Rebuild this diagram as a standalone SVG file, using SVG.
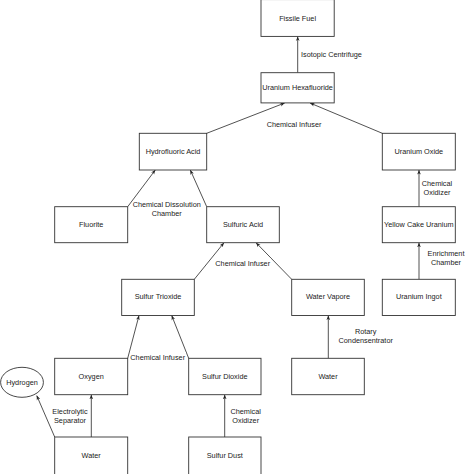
<svg xmlns="http://www.w3.org/2000/svg" width="474" height="474" viewBox="0 0 474 474">
<defs>
<style>
.box{fill:#fff;stroke:#333;stroke-width:0.9}
.t{font-family:"Liberation Sans",Arial,sans-serif;font-size:7.3px;fill:#222;text-anchor:middle}
.ts{text-anchor:start}
.c{stroke:#333;stroke-width:0.85;fill:none;marker-end:url(#ah)}
</style>
<marker id="ah" viewBox="0 0 10 10" refX="10" refY="5" markerWidth="4.6" markerHeight="4.6" markerUnits="userSpaceOnUse" orient="auto">
<path d="M0,1 L10,5 L0,9 L3,5 z" fill="#222"/>
</marker>
</defs>
<rect width="474" height="474" fill="#fff"/>
<g id="connectors">
<line class="c" x1="297.7" y1="72.7" x2="297.7" y2="36.4"/>
<line class="c" x1="206.7" y1="133.3" x2="284.7" y2="103"/>
<line class="c" x1="382.3" y1="133.3" x2="310" y2="103"/>
<line class="c" x1="127.7" y1="206.7" x2="155.3" y2="170"/>
<line class="c" x1="206.7" y1="206.7" x2="190.3" y2="170"/>
<line class="c" x1="419" y1="206.7" x2="419" y2="170"/>
<line class="c" x1="194.3" y1="279.3" x2="224" y2="242.7"/>
<line class="c" x1="291.7" y1="279.3" x2="256" y2="242.7"/>
<line class="c" x1="419" y1="279.3" x2="419" y2="242.7"/>
<line class="c" x1="127.7" y1="358.3" x2="139" y2="315.5"/>
<line class="c" x1="188.7" y1="358.3" x2="171.7" y2="315.5"/>
<line class="c" x1="328.3" y1="358.3" x2="328.3" y2="315.5"/>
<line class="c" x1="91.3" y1="437" x2="91.3" y2="394.7"/>
<line class="c" x1="54.7" y1="437" x2="36.7" y2="395.5"/>
<line class="c" x1="224.7" y1="437" x2="224.7" y2="394.7"/>
<g id="edge-labels">
<text class="t ts" x="301" y="57.1">Isotopic Centrifuge</text>
<rect x="266" y="118" width="56" height="10" fill="#fff"/>
<text class="t" x="294" y="126.6">Chemical Infuser</text>
<text class="t" x="166.7" y="206.9">Chemical Dissolution</text>
<text class="t" x="166.7" y="216.3">Chamber</text>
<text class="t" x="437" y="186.3">Chemical</text>
<text class="t" x="437" y="195.3">Oxidizer</text>
<rect x="215" y="258" width="56" height="10" fill="#fff"/>
<text class="t" x="242.7" y="266.3">Chemical Infuser</text>
<text class="t" x="446" y="255.9">Enrichment</text>
<text class="t" x="446" y="264.9">Chamber</text>
<rect x="130" y="352" width="56" height="10" fill="#fff"/>
<text class="t" x="157.7" y="360.3">Chemical Infuser</text>
<text class="t" x="365.7" y="333.6">Rotary</text>
<text class="t" x="365.7" y="342.6">Condensentrator</text>
<text class="t" x="70" y="413.6">Electrolytic</text>
<text class="t" x="70" y="422.9">Separator</text>
<text class="t" x="245.7" y="413.6">Chemical</text>
<text class="t" x="245.7" y="422.9">Oxidizer</text>
</g>
</g>
<g id="fissile-fuel"><rect class="box" x="261" y="-0.4" width="73.2" height="36.8"/><text class="t" x="297.6" y="20.8">Fissile Fuel</text></g>
<g id="uranium-hexafluoride"><rect class="box" x="261" y="72.7" width="73.2" height="30.2"/><text class="t" x="297.6" y="90.4">Uranium Hexafluoride</text></g>
<g id="hydrofluoric-acid"><rect class="box" x="139.3" y="133.3" width="67.4" height="36.7"/><text class="t" x="173" y="154">Hydrofluoric Acid</text></g>
<g id="uranium-oxide"><rect class="box" x="382.3" y="133.3" width="73" height="36.7"/><text class="t" x="418.8" y="154">Uranium Oxide</text></g>
<g id="fluorite"><rect class="box" x="54.7" y="206.7" width="73" height="36"/><text class="t" x="91.2" y="226.6">Fluorite</text></g>
<g id="sulfuric-acid"><rect class="box" x="206.7" y="206.7" width="72.6" height="36"/><text class="t" x="243" y="226.6">Sulfuric Acid</text></g>
<g id="yellow-cake-uranium"><rect class="box" x="382.3" y="206.7" width="73" height="36"/><text class="t" x="418.8" y="226.6">Yellow Cake Uranium</text></g>
<g id="sulfur-trioxide"><rect class="box" x="121.7" y="279.3" width="72.6" height="36.2"/><text class="t" x="158" y="299.3">Sulfur Trioxide</text></g>
<g id="water-vapore"><rect class="box" x="291.7" y="279.3" width="72.6" height="36.2"/><text class="t" x="328" y="299.3">Water Vapore</text></g>
<g id="uranium-ingot"><rect class="box" x="382.3" y="279.3" width="73" height="36.2"/><text class="t" x="418.8" y="299.3">Uranium Ingot</text></g>
<g id="oxygen"><rect class="box" x="54.7" y="358.3" width="73" height="36.4"/><text class="t" x="91.2" y="378.6">Oxygen</text></g>
<g id="sulfur-dioxide"><rect class="box" x="188.7" y="358.3" width="72.3" height="36.4"/><text class="t" x="224.8" y="378.6">Sulfur Dioxide</text></g>
<g id="water-right"><rect class="box" x="291.7" y="358.3" width="72.6" height="36.4"/><text class="t" x="328" y="378.6">Water</text></g>
<g id="hydrogen"><ellipse class="box" cx="22" cy="382.3" rx="21.4" ry="15"/><text class="t" x="22" y="384.9">Hydrogen</text></g>
<g id="water-left"><rect class="box" x="54.7" y="437" width="73" height="38"/><text class="t" x="91.2" y="457.6">Water</text></g>
<g id="sulfur-dust"><rect class="box" x="188.7" y="437" width="72.3" height="38"/><text class="t" x="224.8" y="457.6">Sulfur Dust</text></g>
</svg>
